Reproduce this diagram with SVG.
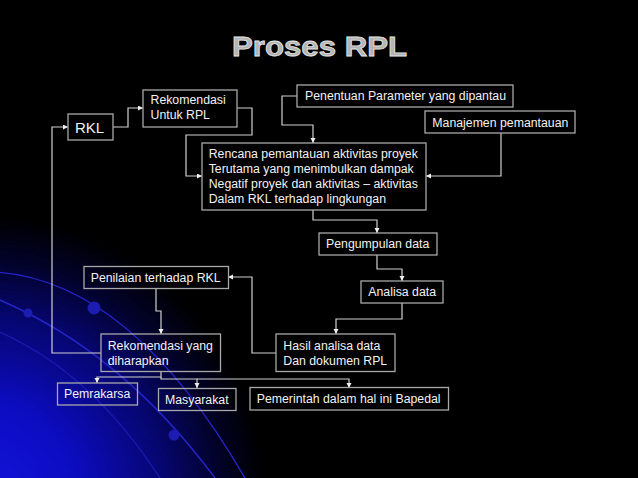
<svg xmlns="http://www.w3.org/2000/svg" width="638" height="478" viewBox="0 0 638 478">
<defs>
<radialGradient id="bg" cx="-20" cy="500" r="285" gradientUnits="userSpaceOnUse">
<stop offset="0" stop-color="#1414e0"/>
<stop offset="0.35" stop-color="#0c0cc0"/>
<stop offset="0.65" stop-color="#060670"/>
<stop offset="0.85" stop-color="#020228"/>
<stop offset="1" stop-color="#000000"/>
</radialGradient>
<marker id="ah" markerUnits="userSpaceOnUse" markerWidth="6" markerHeight="6" refX="5" refY="2.5" orient="auto">
<path d="M0,0 L5,2.5 L0,5 Z" fill="#f0f0f0"/>
</marker>
<style>
.box{fill:none;stroke:#a8a8a8;stroke-width:1.3}
.t{font-family:"Liberation Sans",Arial,sans-serif;font-size:12.3px;fill:#f2f2f2}
.c{fill:none;stroke:#d0d0d0;stroke-width:1.2;marker-end:url(#ah)}
.arc{fill:none;stroke:#2424c8;stroke-width:1.4}
.dot{fill:#1c1cb0}
</style>
</defs>
<rect width="638" height="478" fill="#000"/>
<rect width="638" height="478" fill="url(#bg)"/>
<g id="decor">
<path class="arc" d="M-5,272 Q130,280 245,478"/>
<path class="arc" d="M-5,298 Q120,350 215,478"/>
<path class="arc" d="M-5,330 Q90,370 160,478" opacity="0.6"/>
<circle class="dot" cx="94" cy="308" r="6.5"/>
<circle class="dot" cx="28" cy="313" r="4.5"/>
<circle class="dot" cx="174" cy="435" r="5.5"/>
</g>
<text id="title" x="232" y="56" font-family="Liberation Sans,Arial,sans-serif" font-weight="bold" font-size="28" textLength="175" lengthAdjust="spacingAndGlyphs" fill="#b4b4b4" stroke="#e6e6e6" stroke-width="0.8">Proses RPL</text>
<g id="connectors">
<path class="c" d="M113,127 H128 V108 H143"/>
<path class="c" d="M237,108 H252 V135 H186 V176 H202"/>
<path class="c" d="M297,96 H282 V125 H313 V143"/>
<path class="c" d="M501,133 V176 H426"/>
<path class="c" d="M313,210 V220 H377 V233"/>
<path class="c" d="M377,255 V269 H402 V281"/>
<path class="c" d="M402,303 V319 H336 V334"/>
<path class="c" d="M276,353 H252 V277 H228"/>
<path class="c" d="M156,288 V311 H161 V334"/>
<path class="c" d="M101,353 H52 V127 H68"/>
<path class="c" d="M161,372 V377 H97 V383"/>
<path class="c" d="M161,377 V379 H197 V388"/>
<path class="c" d="M197,379 H349 V388"/>
</g>
<g id="rkl"><rect class="box" x="68" y="114" width="45" height="26"/><text class="t" x="75" y="133" style="font-size:15px">RKL</text></g>
<g id="rek-rpl"><rect class="box" x="143" y="90" width="94" height="37"/><text class="t" x="150.5" y="104.3">Rekomendasi</text><text class="t" x="150.5" y="119.3">Untuk RPL</text></g>
<g id="penentuan"><rect class="box" x="297" y="85" width="216" height="22"/><text class="t" x="305" y="100">Penentuan Parameter yang dipantau</text></g>
<g id="manajemen"><rect class="box" x="425" y="111" width="150" height="22"/><text class="t" x="432.3" y="126.7">Manajemen pemantauan</text></g>
<g id="rencana"><rect class="box" x="202" y="143" width="224" height="67"/>
<text class="t" x="208.7" y="158.3">Rencana pemantauan aktivitas proyek</text>
<text class="t" x="208.7" y="173.1">Terutama yang menimbulkan dampak</text>
<text class="t" x="208.7" y="187.9">Negatif proyek dan aktivitas – aktivitas</text>
<text class="t" x="208.7" y="202.7">Dalam RKL terhadap lingkungan</text></g>
<g id="pengumpulan"><rect class="box" x="319" y="233" width="118" height="22"/><text class="t" x="326" y="248.3">Pengumpulan data</text></g>
<g id="analisa"><rect class="box" x="361" y="281" width="82" height="22"/><text class="t" x="368.3" y="296">Analisa data</text></g>
<g id="hasil"><rect class="box" x="276" y="334" width="119" height="37.5"/><text class="t" x="283.3" y="350">Hasil analisa data</text><text class="t" x="283.3" y="364.5">Dan dokumen RPL</text></g>
<g id="penilaian"><rect class="box" x="84" y="266.5" width="144.5" height="22"/><text class="t" x="90.7" y="282">Penilaian terhadap RKL</text></g>
<g id="rek-yang"><rect class="box" x="101" y="334" width="119.5" height="37.5"/><text class="t" x="107.7" y="350">Rekomendasi yang</text><text class="t" x="107.7" y="364.5">diharapkan</text></g>
<g id="pemrakarsa"><rect class="box" x="57.5" y="383" width="80" height="22"/><text class="t" x="64" y="398.3">Pemrakarsa</text></g>
<g id="masyarakat"><rect class="box" x="158.5" y="388.5" width="77.5" height="22"/><text class="t" x="165" y="404">Masyarakat</text></g>
<g id="pemerintah"><rect class="box" x="250" y="387.5" width="198.5" height="22.5"/><text class="t" x="256.7" y="403.3">Pemerintah dalam hal ini Bapedal</text></g>
</svg>
